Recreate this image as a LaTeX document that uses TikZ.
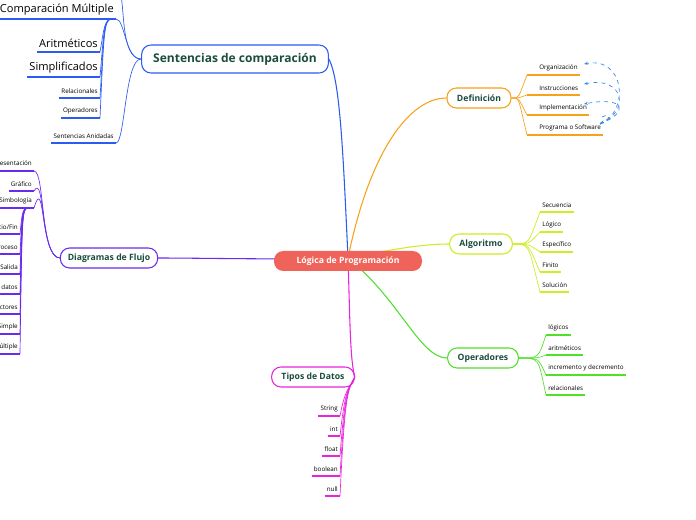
\documentclass[tikz,border=0pt]{standalone}
\usepackage{fontspec}
\setmainfont{Open Sans}
\usetikzlibrary{arrows.meta}
\definecolor{cblue}{HTML}{2D5BEF}
\definecolor{corange}{HTML}{F7A21B}
\definecolor{cyel}{HTML}{CCEE22}
\definecolor{cgreen}{HTML}{4FE02A}
\definecolor{cmag}{HTML}{E824DC}
\definecolor{cpur}{HTML}{6A2BEF}
\definecolor{ctext}{HTML}{1B4D3E}
\definecolor{cred}{HTML}{F0635A}
\definecolor{cdash}{HTML}{3B8BE8}
\tikzset{
 x=0.75pt,y=-0.75pt,
 topic/.style={draw=#1,fill=white,rounded corners=7pt,line width=0.8pt,text=ctext,font=\fontsize{6.5}{7}\selectfont\bfseries,minimum height=15pt,inner xsep=4pt},
 leaf/.style={inner xsep=1.5pt,inner ysep=3pt,font=\fontsize{4.7}{5}\selectfont,text=black},
 bigleaf/.style={inner xsep=1.5pt,inner ysep=3pt,font=\fontsize{8.3}{9}\selectfont,text=black},
 uline/.style={line width=1pt,draw=#1},
 conn/.style={draw=#1,line width=0.5pt},
 mainconn/.style={draw=#1,line width=0.8pt},
}
\newcommand{\kid}[7]{%
 \node[#4,anchor=#5] (#1) at (#6) {#7};
 \draw[uline=#3] (#1.south west) -- (#1.south east);
}
\begin{document}
\begin{tikzpicture}
\useasboundingbox (0,0) rectangle (696,520);
\fill[white] (0,0) rectangle (696,520);
\coordinate (cc) at (348,258);
% topics
\node[topic=cblue,minimum width=140pt,minimum height=21pt,font=\fontsize{9}{10}\selectfont\bfseries] (sc) at (235,59) {Sentencias de comparación};
\node[topic=corange,minimum width=48pt] (def) at (479,98) {Definición};
\node[topic=cyel,minimum width=47pt] (alg) at (481,244) {Algoritmo};
\node[topic=cgreen,minimum width=53pt] (ope) at (483,358) {Operadores};
\node[topic=cmag,minimum width=62pt] (tip) at (313,377) {Tipos de Datos};
\node[topic=cpur,minimum width=73pt] (dia) at (109,258) {Diagramas de Flujo};
% main connectors
\draw[mainconn=cblue] (cc) .. controls (343,150) and (340,80) .. (sc.east);
\draw[mainconn=corange] (cc) .. controls (370,150) and (410,98) .. (def.west);
\draw[mainconn=cyel] (cc) .. controls (390,250) and (420,244) .. (alg.west);
\draw[mainconn=cgreen] (cc) .. controls (400,300) and (420,358) .. (ope.west);
\draw[mainconn=cmag] (cc) .. controls (350,320) and (350,360) .. (tip.east);
\draw[mainconn=cpur] (cc) .. controls (300,260) and (200,258) .. (dia.east);
% central
\node[fill=cred,rounded corners=7pt,text=white,font=\fontsize{6.5}{7}\selectfont\bfseries,minimum width=111pt,minimum height=15pt] (c) at (348,261) {Lógica de Programación};
% Sentencias children
\coordinate (scw) at (141,59);
\kid{cm}{}{cblue}{bigleaf}{south east}{116,19}{Comparación Múltiple}
\kid{sa}{}{cblue}{leaf}{south east}{116,143}{Sentencias Anidadas}
\draw[conn=cblue] (scw) .. controls (120,59) and (125,0) .. (120,-5);
\draw[conn=cblue] (scw) .. controls (125,59) and (125,19) .. (cm.south east);
\draw[conn=cblue] (scw) .. controls (125,59) and (125,143) .. (sa.south east);
\coordinate (cmp) at (112,19);
\kid{ar}{}{cblue}{bigleaf}{south east}{100,52}{Aritméticos}
\kid{si}{}{cblue}{bigleaf}{south east}{100,77}{Simplificados}
\kid{re}{}{cblue}{leaf}{south east}{100,98}{Relacionales}
\kid{op}{}{cblue}{leaf}{south east}{100,118}{Operadores}
\foreach \n in {ar,si,re,op}{\draw[conn=cblue] (cmp) .. controls (104,19) and (104,30) .. (\n.south east);}
% Definicion children
\foreach \n/\t [count=\i] in {d1/Organización,d2/Instrucciones,d3/Implementación,d4/Programa o Software}{
 \kid{\n}{}{corange}{leaf}{south west}{537,55+20*\i}{\t}
 \draw[uline=corange] (527,55+20*\i) -- (\n.south west);
 \draw[conn=corange] (def.east) .. controls (520,98) and (518,98) .. (527,55+20*\i);}
\foreach \y in {64,84,104}{\draw[dashed,cdash,line width=0.5pt,-{Stealth[length=3pt]}] (600,124) .. controls (630,112) and (625,\y-8) .. (584,\y);}
\draw[dashed,cdash,line width=0.5pt,-{Stealth[length=3pt]}] (602,117) .. controls (612,112) and (610,120) .. (600,123);
% Algoritmo children
\foreach \n/\t [count=\i] in {a1/Secuencia,a2/Lógico,a3/Específico,a4/Finito,a5/Solución}{
 \kid{\n}{}{cyel}{leaf}{south west}{540,192+20*\i}{\t}
 \draw[conn=cyel] (alg.east) .. controls (530,244) and (528,244) .. (\n.south west);}
% Operadores children
\foreach \n/\t [count=\i] in {o1/lógicos,o2/aritméticos,o3/incremento y decremento,o4/relacionales}{
 \kid{\n}{}{cgreen}{leaf}{south west}{546,315+20*\i}{\t}
 \draw[conn=cgreen] (ope.east) .. controls (540,358) and (538,358) .. (\n.south west);}
% Tipos children
\foreach \n/\t [count=\i] in {t1/String,t2/int,t3/float,t4/boolean,t5/null}{
 \kid{\n}{}{cmag}{leaf}{south east}{340,396+20*\i}{\t}
 \draw[conn=cmag] (tip.east) .. controls (348,390) and (345,390) .. (\n.south east);}
% Diagramas children
\coordinate (dw) at (60,258);
\kid{f1}{}{cpur}{leaf}{south east}{34,171}{Representación}
\kid{f2}{}{cpur}{leaf}{south east}{34,191}{Gráfico}
\kid{f3}{}{cpur}{leaf}{south east}{34,208}{Simbología}
\foreach \n in {f1,f2,f3}{\draw[conn=cpur] (dw) .. controls (40,258) and (45,171) .. (\n.south east);}
\coordinate (sp) at (28,208);
\foreach \n/\t [count=\i] in {g1/{Inicio/Fin},g2/Proceso,g3/Salida,g4/datos,g5/Conectores,g6/Simple,g7/Múltiple}{
 \kid{\n}{}{cpur}{leaf}{south east}{20,214+20*\i}{\t}
 \draw[conn=cpur] (sp) .. controls (22,208) and (22,215) .. (\n.south east);}
\end{tikzpicture}
\end{document}
